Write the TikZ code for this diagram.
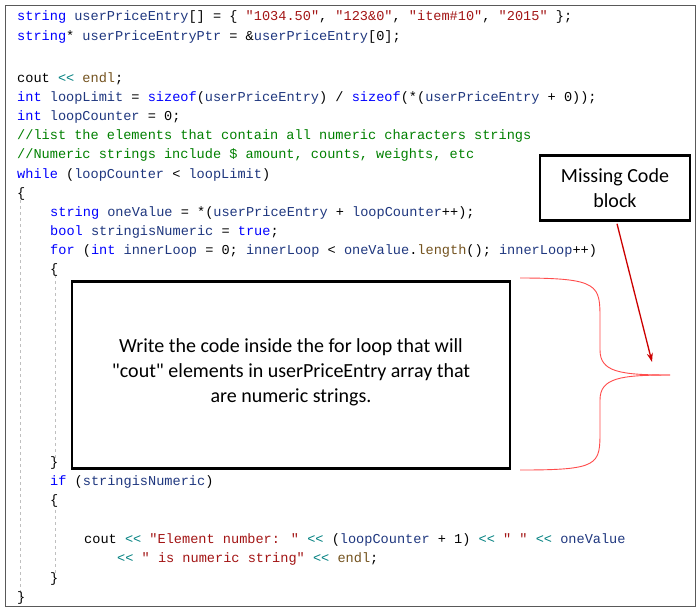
\documentclass[tikz,border=0pt]{standalone}
\usepackage{fontspec}
\newfontfamily\codefont{Liberation Mono}
\newfontfamily\calfont{Carlito}
\usetikzlibrary{arrows.meta}
\definecolor{kw}{HTML}{0000FF}
\definecolor{idc}{HTML}{1F377F}
\definecolor{stc}{HTML}{A31515}
\definecolor{cmc}{HTML}{008000}
\definecolor{opc}{HTML}{008080}
\definecolor{fnc}{HTML}{74531F}
\newcommand\K[1]{\textcolor{kw}{#1}}
\newcommand\I[1]{\textcolor{idc}{#1}}
\newcommand\Sx[1]{\textcolor{stc}{#1}}
\newcommand\C[1]{\textcolor{cmc}{#1}}
\newcommand\Ox{\textcolor{opc}{<\kern0pt<}}
\newcommand\F[1]{\textcolor{fnc}{#1}}
\begin{document}
\begin{tikzpicture}[x=1pt,y=-1pt,
  ln/.style={anchor=base west,inner sep=0pt,font=\codefont\fontsize{13.6}{16}\selectfont},
  box/.style={draw=black,line width=2.5pt},
  lbl/.style={font=\calfont\fontsize{20}{25}\selectfont,align=center}]
\useasboundingbox (0,0) rectangle (700,614);
\fill[white] (0,0) rectangle (700,614);
\draw[gray!70!black,line width=1pt] (5,5) rectangle (695,606);
\draw[gray!50,dashed] (20,200) -- (20,598);
\draw[gray!50,dashed] (55,275) -- (55,460);
\draw[gray!50,dashed] (55,510) -- (55,575);
\node[ln] (a1) at (17,20) {\K{string} \I{userPriceEntry}[] = \{ \Sx{"1034.50"}, \Sx{"123\&0"}, \Sx{"item\#10"}, \Sx{"2015"} \};};
\node[ln] (a2) at (17,40) {\K{string}* \I{userPriceEntryPtr} = \&\I{userPriceEntry}[0];};
\node[ln] (a3) at (17,82) {cout \Ox{} \F{endl};};
\node[ln] (a4) at (17,101) {\K{int} \I{loopLimit} = \K{sizeof}(\I{userPriceEntry}) / \K{sizeof}(*(\I{userPriceEntry} + 0));};
\node[ln] (a5) at (17,120) {\K{int} \I{loopCounter} = 0;};
\node[ln] (a6) at (17,139) {\C{//list the elements that contain all numeric characters strings}};
\node[ln] (a7) at (17,158) {\C{//Numeric strings include \$ amount, counts, weights, etc}};
\node[ln] (a8) at (17,178) {\K{while} (\I{loopCounter} < \I{loopLimit})};
\node[ln] (a9) at (17,197) {\{};
\node[ln] (a10) at (50,216) {\K{string} \I{oneValue} = *(\I{userPriceEntry} + \I{loopCounter}++);};
\node[ln] (a11) at (50,235) {\K{bool} \I{stringisNumeric} = \K{true};};
\node[ln] (a12) at (50,254) {\K{for} (\K{int} \I{innerLoop} = 0; \I{innerLoop} < \I{oneValue}.\F{length}(); \I{innerLoop}++)};
\node[ln] (a13) at (50,273) {\{};
\node[ln] (a14) at (50,466) {\}};
\node[ln] (a15) at (50,485) {\K{if} (\I{stringisNumeric})};
\node[ln] (a16) at (50,504) {\{};
\node[ln] (a17) at (84,543) {cout \Ox{} \Sx{"Element number: "} \Ox{} (\I{loopCounter} + 1) \Ox{} \Sx{" "} \Ox{} \I{oneValue}};
\node[ln] (a18) at (117,562) {\Ox{} \Sx{" is numeric string"} \Ox{} \F{endl};};
\node[ln] (a19) at (50,582) {\}};
\node[ln] (a20) at (17,601) {\}};
\node[box,minimum width=438pt,minimum height=187pt] (big) at (291,375) {};
\node[lbl] (bt) at (291,372) {Write the code inside the for loop that will\\"cout" elements in userPriceEntry array that\\are numeric strings.};
\node[box,minimum width=150pt,minimum height=65pt] (mc) at (615,188) {};
\node[lbl] (mt) at (615,188) {Missing Code\\block};
\coordinate (bt0) at (520,278);
\coordinate (bm) at (670,375);
\coordinate (bb) at (520,470);
\draw[red!70,line width=0.9pt] (bt0) .. controls (600,278) and (600,285) .. (600,320)
  -- (600,350) .. controls (600,372) and (620,375) .. (bm);
\draw[red!70,line width=0.9pt] (bb) .. controls (600,470) and (600,465) .. (600,430)
  -- (600,400) .. controls (600,378) and (620,375) .. (bm);
\draw[red!80!black,line width=1.3pt,-{Stealth[length=9pt,width=6pt]}] (mc.south) ++(2,2) -- (652,362);
\end{tikzpicture}
\end{document}
